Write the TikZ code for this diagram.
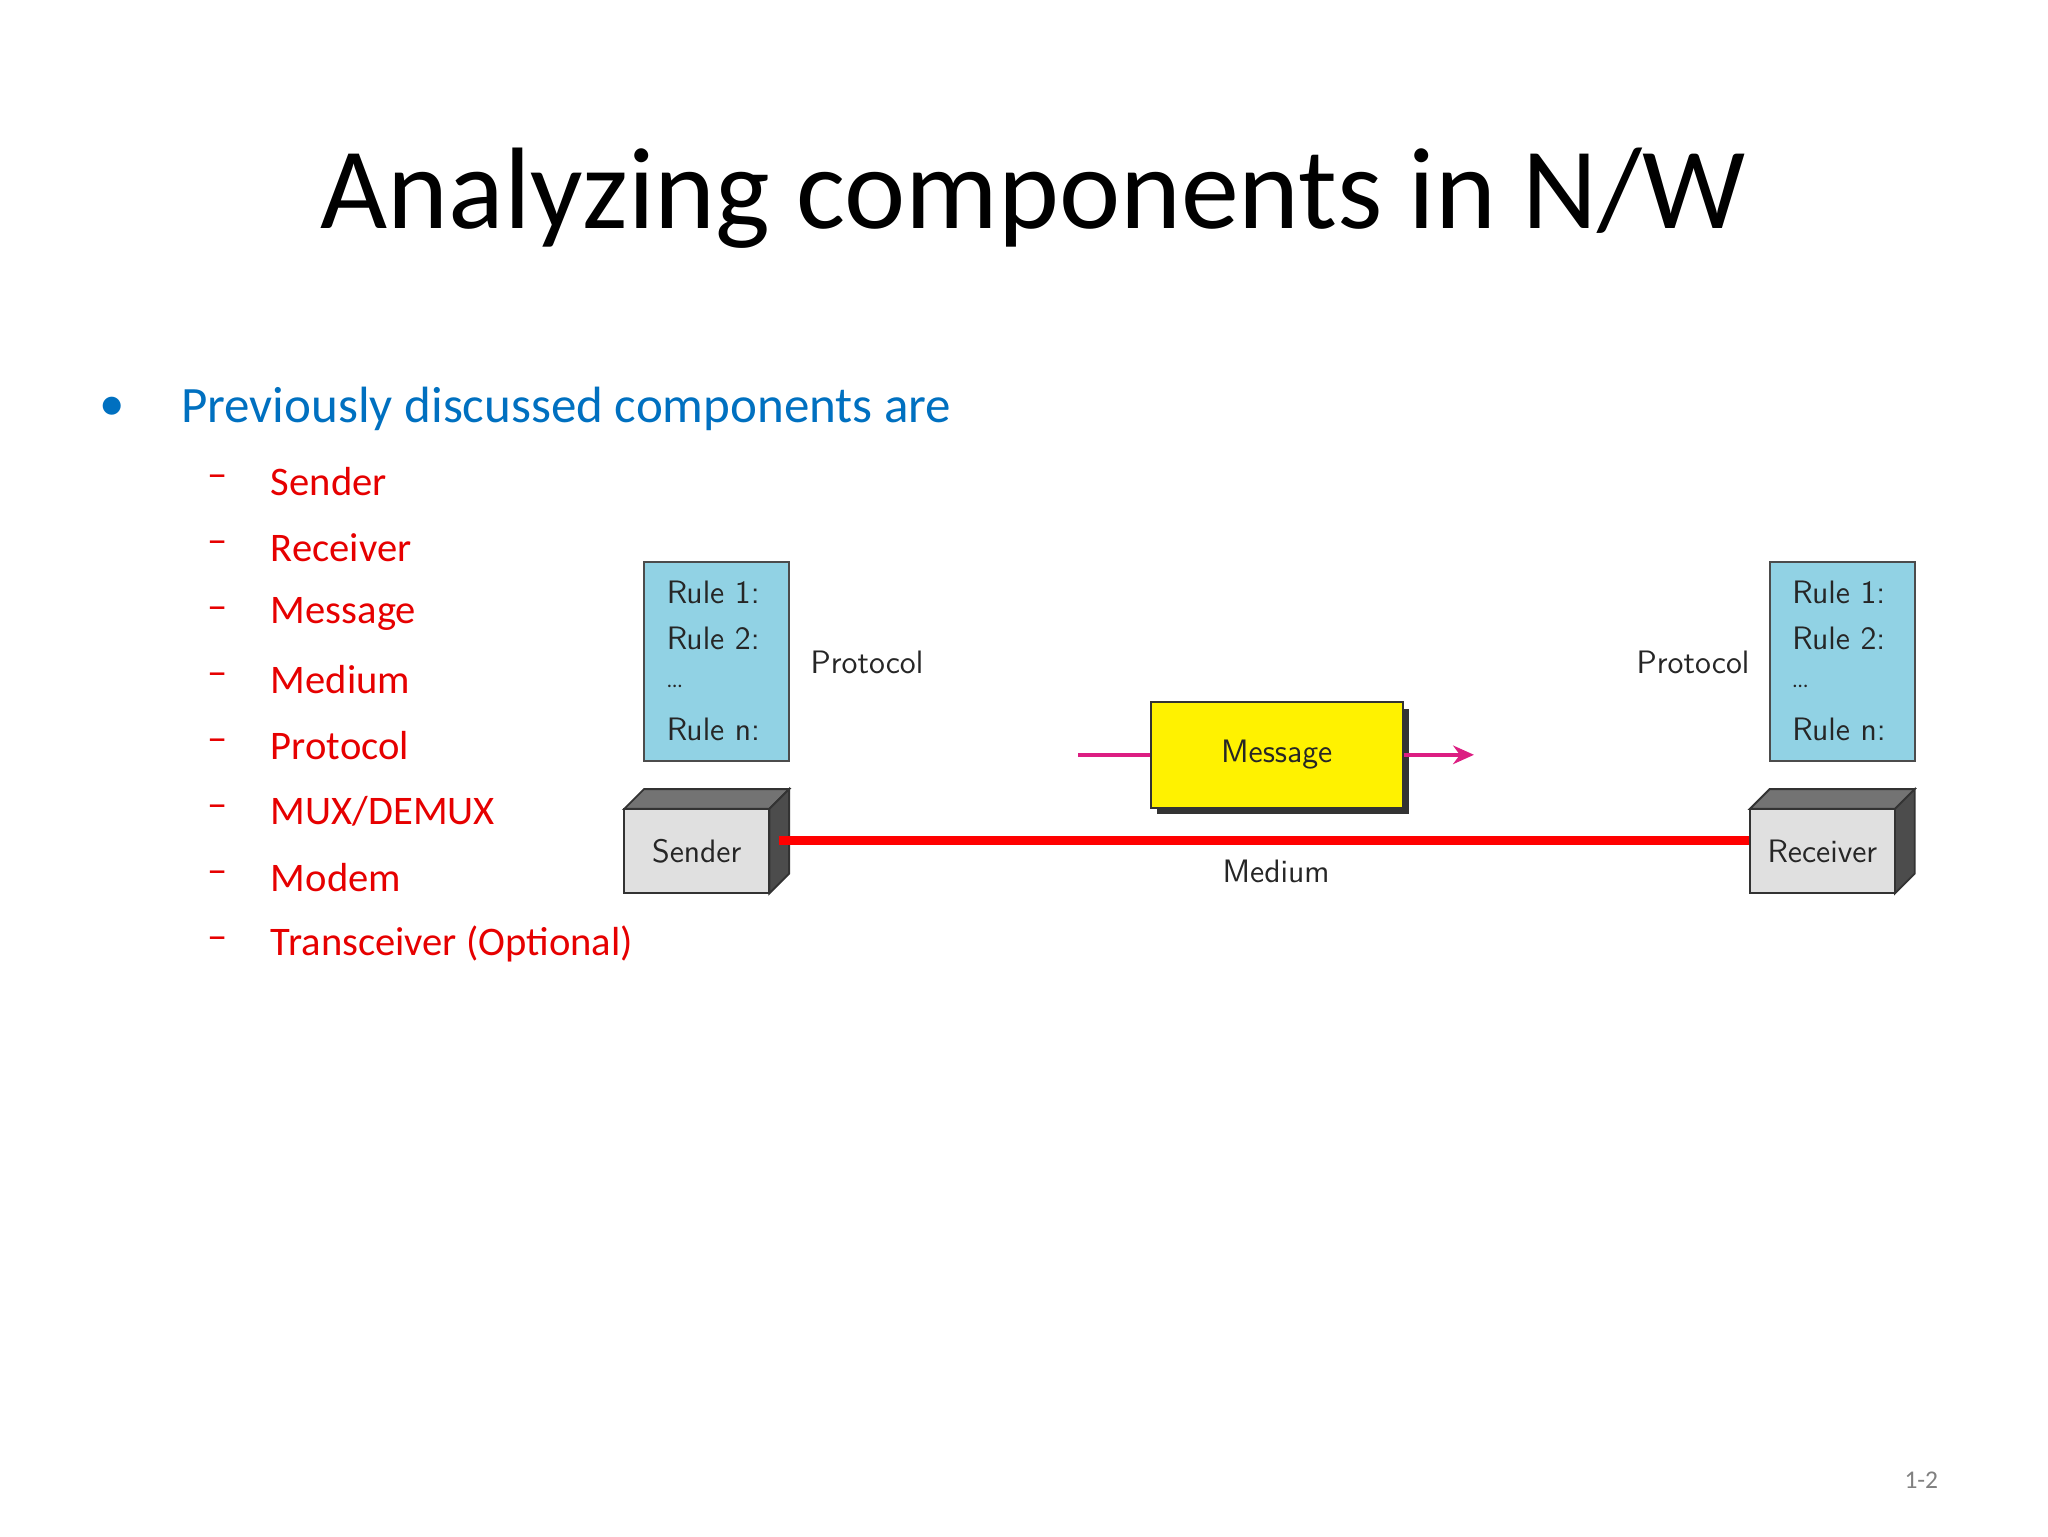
\documentclass[tikz,border=0pt]{standalone}
\usepackage{fontspec}
\setmainfont{Carlito}
\usetikzlibrary{arrows.meta}
\begin{document}
\begin{tikzpicture}[x=0.02cm,y=-0.02cm,
  rules/.style={draw=black!70,fill={rgb,255:red,145;green,210;blue,228},line width=0.8pt},
  dtext/.style={font=\fontsize{14}{16}\selectfont\sffamily,text=black!85},
  item/.style={anchor=west,text={rgb,255:red,230;green,0;blue,0},font=\fontsize{17.5}{20}\selectfont},
  ditem/.style={anchor=center,text={rgb,255:red,230;green,0;blue,0},font=\fontsize{17.5}{20}\selectfont},
  front/.style={draw=black!80,fill=black!12,line width=0.8pt},
  topf/.style={draw=black!80,fill=black!55,line width=0.8pt},
  sidef/.style={draw=black!80,fill=black!70,line width=0.8pt},
  marrow/.style={draw={rgb,255:red,220;green,30;blue,130},line width=1.6pt}]
\useasboundingbox (0,0) rectangle (1552,1164);
\node (title) at (783,150) {\fontsize{50}{56}\selectfont Analyzing components in N/W};
\node (bul) at (85,310) [text={rgb,255:red,0;green,112;blue,192},font=\fontsize{22}{26}\selectfont] {•};
\node (lead) at (137,310) [anchor=west,inner sep=0,text={rgb,255:red,0;green,112;blue,192},font=\fontsize{22}{26}\selectfont] {Previously discussed components are};
\foreach \t [count=\i] in {Sender,Receiver,Message,Medium,Protocol,MUX/DEMUX,Modem,Transceiver (Optional)}{
  \node (d\i) [ditem] at (165,315+50*\i) {–};
  \node (it\i) [item,inner sep=0] at (205,315+50*\i) {\t};
}
% rules boxes
\node (rl) [rules,minimum width=110*0.02cm,minimum height=151*0.02cm,inner sep=0] at (543,501.5) {};
\node (rr) [rules,minimum width=110*0.02cm,minimum height=151*0.02cm,inner sep=0] at (1396,501.5) {};
\foreach \b/\x in {l/505,r/1358}{
  \node [dtext,anchor=west,inner sep=0] at (\x,449) {Rule 1:};
  \node [dtext,anchor=west,inner sep=0] at (\x,484) {Rule 2:};
  \node [dtext,anchor=west,inner sep=0,font=\fontsize{9}{10}\selectfont] at (\x,520) {...};
  \node [dtext,anchor=west,inner sep=0] at (\x,553) {Rule n:};
}
\node (pl) [dtext] at (657,502) {Protocol};
\node (pr) [dtext] at (1283,502) {Protocol};
% message
\fill[black!80] (877,537) rectangle (1068,617);
\node (msg) [draw=black!80,fill=yellow,line width=0.8pt,minimum width=191*0.02cm,minimum height=80*0.02cm,inner sep=0,dtext] at (967.5,572) {Message};
\coordinate (min) at (817,572);
\coordinate (mout) at (1117,572);
\draw[marrow] (min) -- (msg.west);
\draw[marrow,-{Stealth[length=9pt,width=8pt]}] (msg.east) -- (mout);
% sender cube
\draw[topf] (473,613) -- (488,598) -- (598,598) -- (583,613) -- cycle;
\draw[sidef] (583,613) -- (598,598) -- (598,662) -- (583,677) -- cycle;
\node (snd) [front,minimum width=110*0.02cm,minimum height=64*0.02cm,inner sep=0,dtext] at (528,645) {Sender};
% receiver cube
\draw[topf] (1326,613) -- (1341,598) -- (1451,598) -- (1436,613) -- cycle;
\draw[sidef] (1436,613) -- (1451,598) -- (1451,662) -- (1436,677) -- cycle;
\node (rcv) [front,minimum width=110*0.02cm,minimum height=64*0.02cm,inner sep=0,dtext] at (1381,645) {Receiver};
\coordinate (sndr) at (590,637);
\draw[red,line width=0.13cm] (sndr) -- (rcv.west |- sndr);
\node (med) [dtext] at (967,660) {Medium};
\node (pg) [text=black!50,font=\fontsize{11}{13}\selectfont] at (1456,1122) {1-2};
\end{tikzpicture}
\end{document}
